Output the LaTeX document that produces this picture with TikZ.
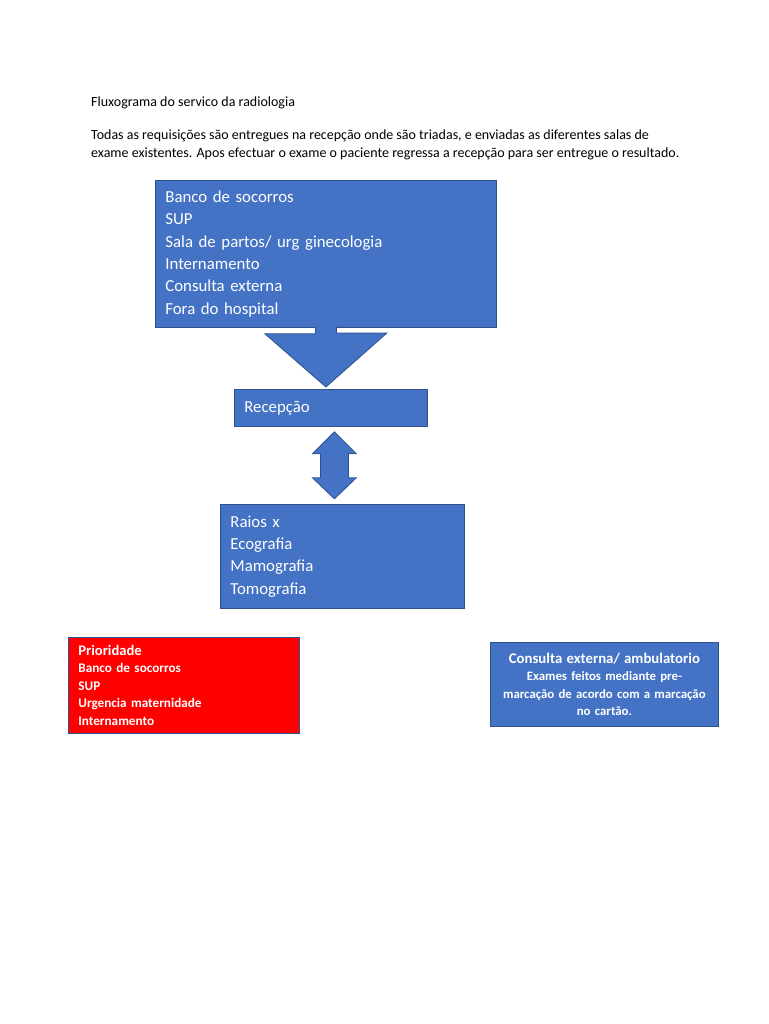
\documentclass[tikz,border=0pt]{standalone}
\usepackage{fontspec}
\setmainfont{Carlito}
\usetikzlibrary{calc}
\definecolor{caixa}{HTML}{4472C4}
\definecolor{borda}{HTML}{2F528F}
\definecolor{urgente}{HTML}{FF0000}

\begin{document}
\begin{tikzpicture}[x=1pt,y=-1pt]
\useasboundingbox (0,0) rectangle (768,1024);
\fill[white] (0,0) rectangle (768,1024);
%\tikzstyle{seta}=[fill=caixa,draw=borda]
\tikzset{seta/.style={fill=caixa,draw=borda,line width=0.8pt,line join=miter}}

\node[anchor=west, inner sep=0pt, font=\fontsize{14}{18}\selectfont] (titulo) at (91,103) {Fluxograma do servico da radiologia};
\node[anchor=west, inner sep=0pt, align=left, font=\fontsize{14}{18}\selectfont] (texto) at (91,145) {Todas as requisições são entregues na recepção onde são triadas, e enviadas as diferentes salas de\\exame existentes. Apos efectuar o exame o paciente regressa a recepção para ser entregue o resultado.};

\begin{scope}[every node/.style={draw=borda, fill=caixa, text=white, anchor=north west, line width=0.8pt, inner xsep=10pt}]
    \node[text width=321, minimum height=147, align=left, font=\fontsize{16.8}{22.3}\selectfont] (origem) at (155,180) {Banco de socorros\\SUP\\Sala de partos/ urg ginecologia\\Internamento\\Consulta externa\\Fora do hospital};
    \node[text width=173, minimum height=37, align=left, font=\fontsize{16.8}{22.3}\selectfont] (recepcao) at (234,389) {Recepção};
    \node[text width=224, minimum height=104, align=left, font=\fontsize{16.8}{22.3}\selectfont] (exames) at (220,504) {Raios x\\Ecografia\\Mamografia\\Tomografia};
    \node[fill=urgente, text width=211, minimum height=96, align=left, font=\bfseries\fontsize{13.2}{17.5}\selectfont] (prioridade) at (68,637) {{\fontsize{14.6}{17.5}\selectfont Prioridade}\\Banco de socorros\\SUP\\Urgencia maternidade\\Internamento};
    \node[text width=208, minimum height=84, align=center, font=\bfseries\fontsize{12.8}{17.3}\selectfont] (consulta) at (490,642) {{\fontsize{14.8}{17.3}\selectfont Consulta externa/ ambulatorio}\\Exames feitos mediante pre-\\marcação de acordo com a marcação\\no cartão.};
\end{scope}

% seta para a recepcao
\coordinate (ponta) at ($(origem.south |- recepcao.north)+(0,-2)$);
\filldraw[seta] ($(origem.south)+(-10.5,-1)$) -- ++(0,7) -- ++(-50.5,0) -- (ponta) -- ++(61,-54) -- ++(-50.5,0) -- ++(0,-7);

% seta dupla
\coordinate (meio) at ($(recepcao.south)+(3.5,0)$);
\draw[seta] ($(meio)+(0,5)$) -- ++(-22,22) -- ++(8,0) -- ++(0,24) -- ++(-8,0) -- ++(22,21) -- ++(22,-21) -- ++(-8,0) -- ++(0,-24) -- ++(8,0) -- cycle;
\end{tikzpicture}
\end{document}
